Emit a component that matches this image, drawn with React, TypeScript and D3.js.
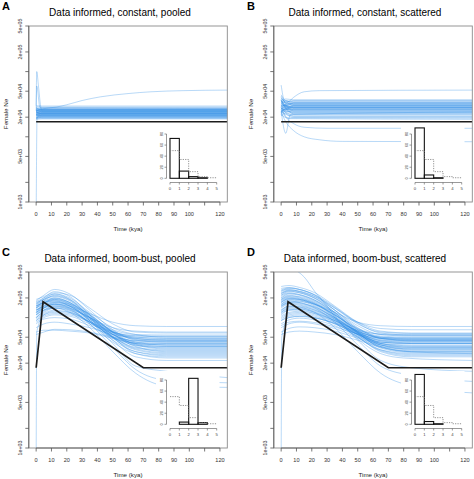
import React from "react";
import * as d3 from "d3";

// panel text
const panelLetters = ["A", "B", "C", "D"];
const panelTitles = [
  "Data informed, constant, pooled",
  "Data informed, constant, scattered",
  "Data informed, boom-bust, pooled",
  "Data informed, boom-bust, scattered",
];

// axes
const xTicks = [0, 10, 20, 30, 40, 50, 60, 70, 80, 90, 100, 110, 120];
const xTickLabels = ["0", "10", "20", "30", "40", "50", "60", "70", "80", "90", "100", "", "120"];
const yTicks = [1e3, 2e3, 5e3, 1e4, 2e4, 5e4, 1e5, 2e5, 5e5];
const yTickLabels = ["1e+03", "", "5e+03", "", "2e+04", "5e+04", "", "2e+05", "5e+05"];

// inset histograms (number of size changes)
const histBins = [0, 1, 2, 3, 4, 5];
const histTicks = [0, 20, 40, 60, 80];
const priorCounts = [50, 34, 12, 3, 1];
const postCountsA = [72, 13, 3, 1, 0];
const postCountsB = [91, 6, 1, 0, 0];
const postCountsC = [0, 4, 83, 3, 0];
const postCountsD = [90, 5, 1, 0, 0];

// true histories, [kya, Ne in thousands]
const trueConstant: [number, number][] = [[0, 17], [125, 17]];
const trueBoomBust: [number, number][] = [[0, 17], [4.5, 175], [70, 17], [125, 17]];

// A: constant, pooled -> [Ne at 0, plateau Ne] (thousands)
const constPooled = [
  [21, 21], [24, 23], [19, 19.5], [27, 26], [22, 22.5], [25, 24.5], [20, 20.5], [23, 23.5],
  [28, 27], [26, 25.5], [21.5, 21.8], [24.5, 24], [19, 20], [22, 21.2], [29, 28.5], [23, 22.8],
  [25, 25], [20, 19.2], [26, 26.5], [22, 23.2], [24, 24.2], [21, 20.8], [27, 27.5], [23.5, 21.5],
  [25.5, 25.8], [20, 22], [24, 23.8], [18.5, 18.8], [26, 24.6], [22.5, 22.2], [30, 29.6], [21, 23],
  [25, 26], [23, 24.8], [19.5, 21.4], [28, 25.2], [22, 20.2], [24, 22.6],
];
const constPooledExtra: [number, number][][] = [
  [[0, 30], [0.4, 100], [1.5, 60], [3.5, 26], [125, 26]],
  [[0, 25], [0.4, 60], [2.5, 28], [125, 27.5]],
  [[0, 25], [5, 27], [13, 28.5], [20, 31], [30, 36], [42, 41], [60, 46], [75, 49], [96, 51], [125, 52]],
  [[0, 0.5], [0.6, 20], [125, 20]],
];

// B: constant, scattered -> [Ne at 0, Ne at 3 kya, plateau Ne]
const constScattered = [
  [30, 26, 27], [36, 31, 33], [24, 28, 25], [40, 34, 35], [28, 24, 22], [33, 30, 31], [22, 25, 24],
  [38, 29, 29], [26, 30, 28], [31, 27, 26], [44, 36, 34], [25, 22, 21], [35, 33, 32], [27, 25, 23],
  [32, 34, 30], [23, 27, 26.5], [37, 30, 28.5], [29, 31, 33.5], [34, 28, 24.5], [21, 23, 20.5],
  [39, 35, 36], [30, 28, 27.5], [26, 24, 25.5], [33, 36, 31.5], [28, 26, 29.5], [42, 33, 30.5],
  [24, 26, 22.5], [31, 30, 32.5], [36, 27, 23.5], [27, 29, 26], [35, 38, 37], [29, 23, 19.8],
  [32, 29, 28], [25, 27, 30],
];
const constScatteredExtra: [number, number][][] = [
  [[0, 30], [4, 33], [8, 40], [15, 49], [25, 51], [125, 52]],
  [[0, 24], [3, 17], [8, 12.5], [15, 10], [25, 9], [40, 8.5], [125, 8.4]],
  [[0, 26], [3, 20], [8, 16], [15, 14], [30, 13.5], [125, 13.5]],
  [[0, 62], [2, 35], [5, 28], [125, 28]],
  [[0, 25], [3, 11.3], [6, 22], [125, 24]],
  [[0, 28], [5, 19], [125, 18.5]],
  [[0, 22], [4, 19.5], [125, 19.2]],
];

// C, D: boom-bust -> Ne (thousands) at these times
const bbTimes = [0, 5, 12, 22, 35, 50, 65, 85, 125];
const bbPooled = [
  [150, 190, 230, 200, 120, 70, 55, 50, 50], [120, 160, 200, 170, 100, 55, 40, 36, 36],
  [180, 220, 270, 230, 130, 65, 45, 42, 42], [100, 130, 150, 140, 95, 60, 48, 46, 46],
  [140, 170, 180, 150, 90, 50, 35, 32, 32], [90, 110, 120, 115, 85, 55, 42, 40, 40],
  [160, 200, 250, 210, 110, 50, 30, 27, 27], [130, 150, 160, 140, 100, 65, 55, 54, 54],
  [110, 140, 170, 160, 110, 60, 38, 33, 33], [170, 190, 210, 180, 105, 55, 36, 30, 30],
  [80, 95, 100, 95, 75, 50, 40, 38, 38], [140, 180, 220, 190, 115, 60, 42, 38, 38],
  [120, 140, 150, 130, 85, 45, 30, 26, 26], [190, 210, 240, 220, 140, 80, 60, 58, 58],
  [100, 120, 140, 130, 90, 50, 33, 29, 29], [150, 170, 190, 165, 100, 52, 34, 31, 31],
  [130, 160, 180, 155, 95, 55, 44, 44, 44], [70, 80, 85, 80, 70, 55, 50, 48, 48],
  [160, 180, 200, 170, 105, 60, 46, 43, 43], [110, 130, 145, 135, 100, 70, 62, 60, 60],
  [140, 160, 170, 150, 95, 50, 28, 24, 24], [90, 105, 115, 110, 85, 60, 52, 51, 51],
  [120, 150, 175, 150, 90, 48, 32, 28, 28], [175, 200, 230, 190, 100, 45, 25, 22, 22],
  [100, 125, 140, 125, 85, 52, 41, 40, 40], [150, 175, 195, 170, 110, 62, 48, 45, 45],
  [130, 145, 155, 135, 80, 42, 28, 25, 25], [85, 100, 110, 105, 80, 58, 47, 45, 45],
  [165, 190, 215, 185, 110, 58, 37, 35, 35], [115, 140, 160, 145, 100, 62, 50, 48, 48],
  [140, 165, 185, 160, 100, 56, 39, 34, 34], [95, 115, 130, 120, 88, 60, 53, 52, 52],
  [120, 140, 160, 150, 115, 85, 75, 73, 73], [150, 170, 190, 160, 90, 40, 18, 15, 12],
  [130, 150, 165, 140, 80, 35, 16, 11, 10], [110, 130, 140, 120, 70, 30, 14, 9, 8.5],
  [60, 64, 64, 62, 58, 48, 40, 38, 38], [55, 60, 66, 65, 60, 50, 44, 42, 42],
];
const bbPooledExtra: [number, number][][] = [
  [[0, 0.5], [0.4, 60], [5, 110], [12, 125], [22, 120], [35, 85], [50, 50], [65, 38], [85, 36], [125, 36]],
];
const bbScattered = [
  [250, 280, 270, 220, 140, 80, 60, 57, 57], [180, 200, 190, 160, 110, 65, 48, 45, 45],
  [120, 140, 140, 125, 90, 55, 40, 37, 37], [300, 310, 290, 240, 150, 85, 62, 58, 58],
  [90, 105, 110, 100, 80, 55, 42, 40, 40], [200, 230, 220, 180, 115, 60, 40, 35, 35],
  [150, 170, 165, 145, 100, 60, 45, 43, 43], [220, 250, 240, 200, 130, 75, 55, 52, 52],
  [70, 80, 85, 80, 68, 50, 38, 35, 35], [160, 185, 180, 150, 95, 50, 32, 28, 28],
  [260, 270, 250, 200, 120, 62, 38, 33, 33], [110, 130, 135, 120, 90, 62, 50, 48, 48],
  [190, 215, 210, 175, 110, 58, 36, 31, 31], [140, 160, 155, 135, 95, 58, 42, 40, 40],
  [230, 260, 250, 210, 140, 85, 68, 65, 65], [100, 115, 120, 110, 85, 58, 46, 44, 44],
  [170, 195, 190, 160, 105, 58, 38, 34, 34], [60, 68, 72, 70, 62, 48, 36, 33, 33],
  [210, 235, 225, 185, 120, 68, 50, 47, 47], [130, 150, 150, 130, 92, 56, 38, 32, 32],
  [280, 290, 270, 220, 130, 65, 40, 36, 36], [80, 92, 98, 92, 75, 52, 40, 38, 38],
  [155, 175, 170, 145, 100, 62, 48, 46, 46], [240, 265, 255, 210, 130, 70, 48, 44, 44],
  [120, 135, 135, 120, 88, 54, 36, 30, 30], [185, 205, 195, 165, 110, 66, 52, 50, 50],
  [95, 110, 115, 105, 82, 56, 44, 42, 42], [265, 285, 270, 225, 145, 82, 58, 54, 54],
  [145, 165, 160, 140, 98, 60, 44, 41, 41], [200, 220, 205, 170, 105, 55, 32, 27, 27],
  [75, 85, 88, 84, 72, 56, 48, 47, 47], [170, 190, 185, 155, 100, 52, 30, 25, 25],
  [125, 145, 145, 130, 95, 62, 48, 45, 45], [220, 240, 225, 185, 115, 58, 35, 30, 30],
  [105, 120, 125, 115, 90, 64, 56, 55, 55], [150, 170, 175, 160, 120, 85, 75, 73, 73],
  [190, 210, 200, 165, 100, 45, 22, 17, 15], [160, 180, 170, 140, 85, 38, 18, 13, 10.5],
  [130, 150, 145, 120, 70, 30, 14, 9, 7], [55, 60, 62, 60, 55, 45, 35, 30, 28],
  [235, 255, 240, 195, 120, 60, 34, 29, 29], [90, 100, 104, 98, 82, 60, 50, 49, 49],
  [175, 195, 190, 160, 110, 68, 55, 53, 53], [115, 130, 130, 115, 85, 50, 31, 26, 26],
];
const bbScatteredExtra: [number, number][][] = [
  [[3, 650], [8, 560], [15, 420], [22, 250], [30, 150], [37, 91], [45, 60], [55, 38], [65, 28], [80, 24], [125, 22]],
  [[0, 0.5], [0.4, 50], [5, 100], [12, 105], [22, 100], [35, 80], [50, 55], [65, 42], [85, 40], [125, 40]],
];

type Knots = [number, number][];

const panels = [
  {
    ox: 0, oy: 0,
    lines: [...constPooled.map(([s, l]) => [[0, s], [4, l], [125, l]] as Knots), ...constPooledExtra],
    truth: trueConstant, post: postCountsA,
  },
  {
    ox: 245, oy: 0,
    lines: [...constScattered.map(([s, m, l]) => [[0, s], [3, m], [8, l], [125, l]] as Knots), ...constScatteredExtra],
    truth: trueConstant, post: postCountsB,
  },
  {
    ox: 0, oy: 246,
    lines: [...bbPooled.map((v) => bbTimes.map((t, i) => [t, v[i]]) as Knots), ...bbPooledExtra],
    truth: trueBoomBust, post: postCountsC,
  },
  {
    ox: 245, oy: 246,
    lines: [...bbScattered.map((v) => bbTimes.map((t, i) => [t, v[i]]) as Knots), ...bbScatteredExtra],
    truth: trueBoomBust, post: postCountsD,
  },
];

const FONT = "'Liberation Sans', Arial, sans-serif";

function Panel({ idx }: { idx: number }) {
  const p = panels[idx];
  const x = d3.scaleLinear().domain([-4.8, 124.8]).range([28.8, 227.3]);
  const y = d3.scaleLog().domain([1e3, 5e5]).range([202, 26]);
  const line = d3.line<[number, number]>()
    .x((d) => x(d[0]))
    .y((d) => y(Math.max(d[1] * 1000, 1)))
    .curve(d3.curveMonotoneX);
  const truthLine = d3.line<[number, number]>()
    .x((d) => x(d[0]))
    .y((d) => y(d[1] * 1000));

  // inset
  const xi = d3.scaleLinear().domain([0, 5]).range([170, 216.7]);
  const yi = d3.scaleLinear().domain([0, 80]).range([178.3, 134]);
  const priorPts: [number, number][] = [...priorCounts.map((c, i) => [i, c] as [number, number]), [5, priorCounts[4]]];
  const step = d3.line<[number, number]>().x((d) => xi(d[0])).y((d) => yi(d[1])).curve(d3.curveStepAfter);

  const clipId = `clip${idx}`;
  const [x0, x1] = x.range();
  const [yb, yt] = y.range();

  return (
    <g transform={`translate(${p.ox},${p.oy})`} fontFamily={FONT}>
      <defs>
        <clipPath id={clipId}>
          <rect x={x0} y={yt} width={x1 - x0} height={yb - yt} />
        </clipPath>
      </defs>
      <text x={2} y={10} fontSize={11} fontWeight="bold">{panelLetters[idx]}</text>
      <text x={120} y={15.5} fontSize={10} textAnchor="middle">{panelTitles[idx]}</text>

      <g clipPath={`url(#${clipId})`}>
        {p.lines.map((l, i) => (
          <path key={i} d={line(l) || ""} fill="none" stroke="#2b8ce6" strokeOpacity={0.33} strokeWidth={1} />
        ))}
        <path d={truthLine(p.truth) || ""} fill="none" stroke="#1c1c1c" strokeWidth={1.7} />
      </g>

      {/* inset */}
      <rect x={156} y={125} width={63.5} height={69} fill="#fff" />
      <g>
        {p.post.map((c, i) => (
          <rect key={i} x={xi(histBins[i])} y={yi(c)} width={xi(histBins[i + 1]) - xi(histBins[i])}
            height={yi(0) - yi(c)} fill="none" stroke="#111" strokeWidth={1.1} />
        ))}
        <path d={step(priorPts) || ""} fill="none" stroke="#777" strokeWidth={0.8} strokeDasharray="1.2,1.2" />
        <line x1={166.5} x2={166.5} y1={yi(0)} y2={yi(80)} stroke="#555" strokeWidth={0.6} />
        {histTicks.map((t) => (
          <g key={t}>
            <line x1={164.5} x2={166.5} y1={yi(t)} y2={yi(t)} stroke="#555" strokeWidth={0.6} />
            <text transform={`translate(163.3,${yi(t)}) rotate(-90)`} fontSize={4} textAnchor="middle" fill="#444">{t}</text>
          </g>
        ))}
        <line x1={xi(0)} x2={xi(5)} y1={182.5} y2={182.5} stroke="#555" strokeWidth={0.6} />
        {histBins.map((b) => (
          <g key={b}>
            <line x1={xi(b)} x2={xi(b)} y1={182.5} y2={184.5} stroke="#555" strokeWidth={0.6} />
            <text x={xi(b)} y={190} fontSize={4.2} textAnchor="middle" fill="#444">{b}</text>
          </g>
        ))}
      </g>

      {/* frame and axes */}
      <rect x={x0} y={yt} width={x1 - x0} height={yb - yt} fill="none" stroke="#8a8a8a" strokeWidth={0.9} />
      <line x1={x(0)} x2={x(120)} y1={yb} y2={yb} stroke="#555" strokeWidth={0.8} />
      {xTicks.map((t, i) => (
        <g key={t}>
          <line x1={x(t)} x2={x(t)} y1={yb} y2={yb + 3.5} stroke="#555" strokeWidth={0.8} />
          <text x={x(t)} y={216} fontSize={5.6} textAnchor="middle" fill="#333">{xTickLabels[i]}</text>
        </g>
      ))}
      <line x1={x0} x2={x0} y1={y(1e3)} y2={y(5e5)} stroke="#555" strokeWidth={0.8} />
      {yTicks.map((t, i) => (
        <g key={t}>
          <line x1={x0 - 3.5} x2={x0} y1={y(t)} y2={y(t)} stroke="#555" strokeWidth={0.8} />
          <text transform={`translate(21.7,${y(t)}) rotate(-90)`} fontSize={5.3} textAnchor="middle" fill="#333">{yTickLabels[i]}</text>
        </g>
      ))}
      <text x={128} y={230.5} fontSize={6.2} textAnchor="middle" fill="#222">Time (kya)</text>
      <text transform="translate(8.3,114) rotate(-90)" fontSize={6.2} textAnchor="middle" fill="#222">Female Ne</text>
    </g>
  );
}

export default function App() {
  return (
    <svg width={474} height={479} viewBox="0 0 474 479"
      style={{ display: "block", background: "#fff", position: "fixed", left: 0, top: 0 }}>
      {panels.map((_, i) => <Panel key={i} idx={i} />)}
    </svg>
  );
}
